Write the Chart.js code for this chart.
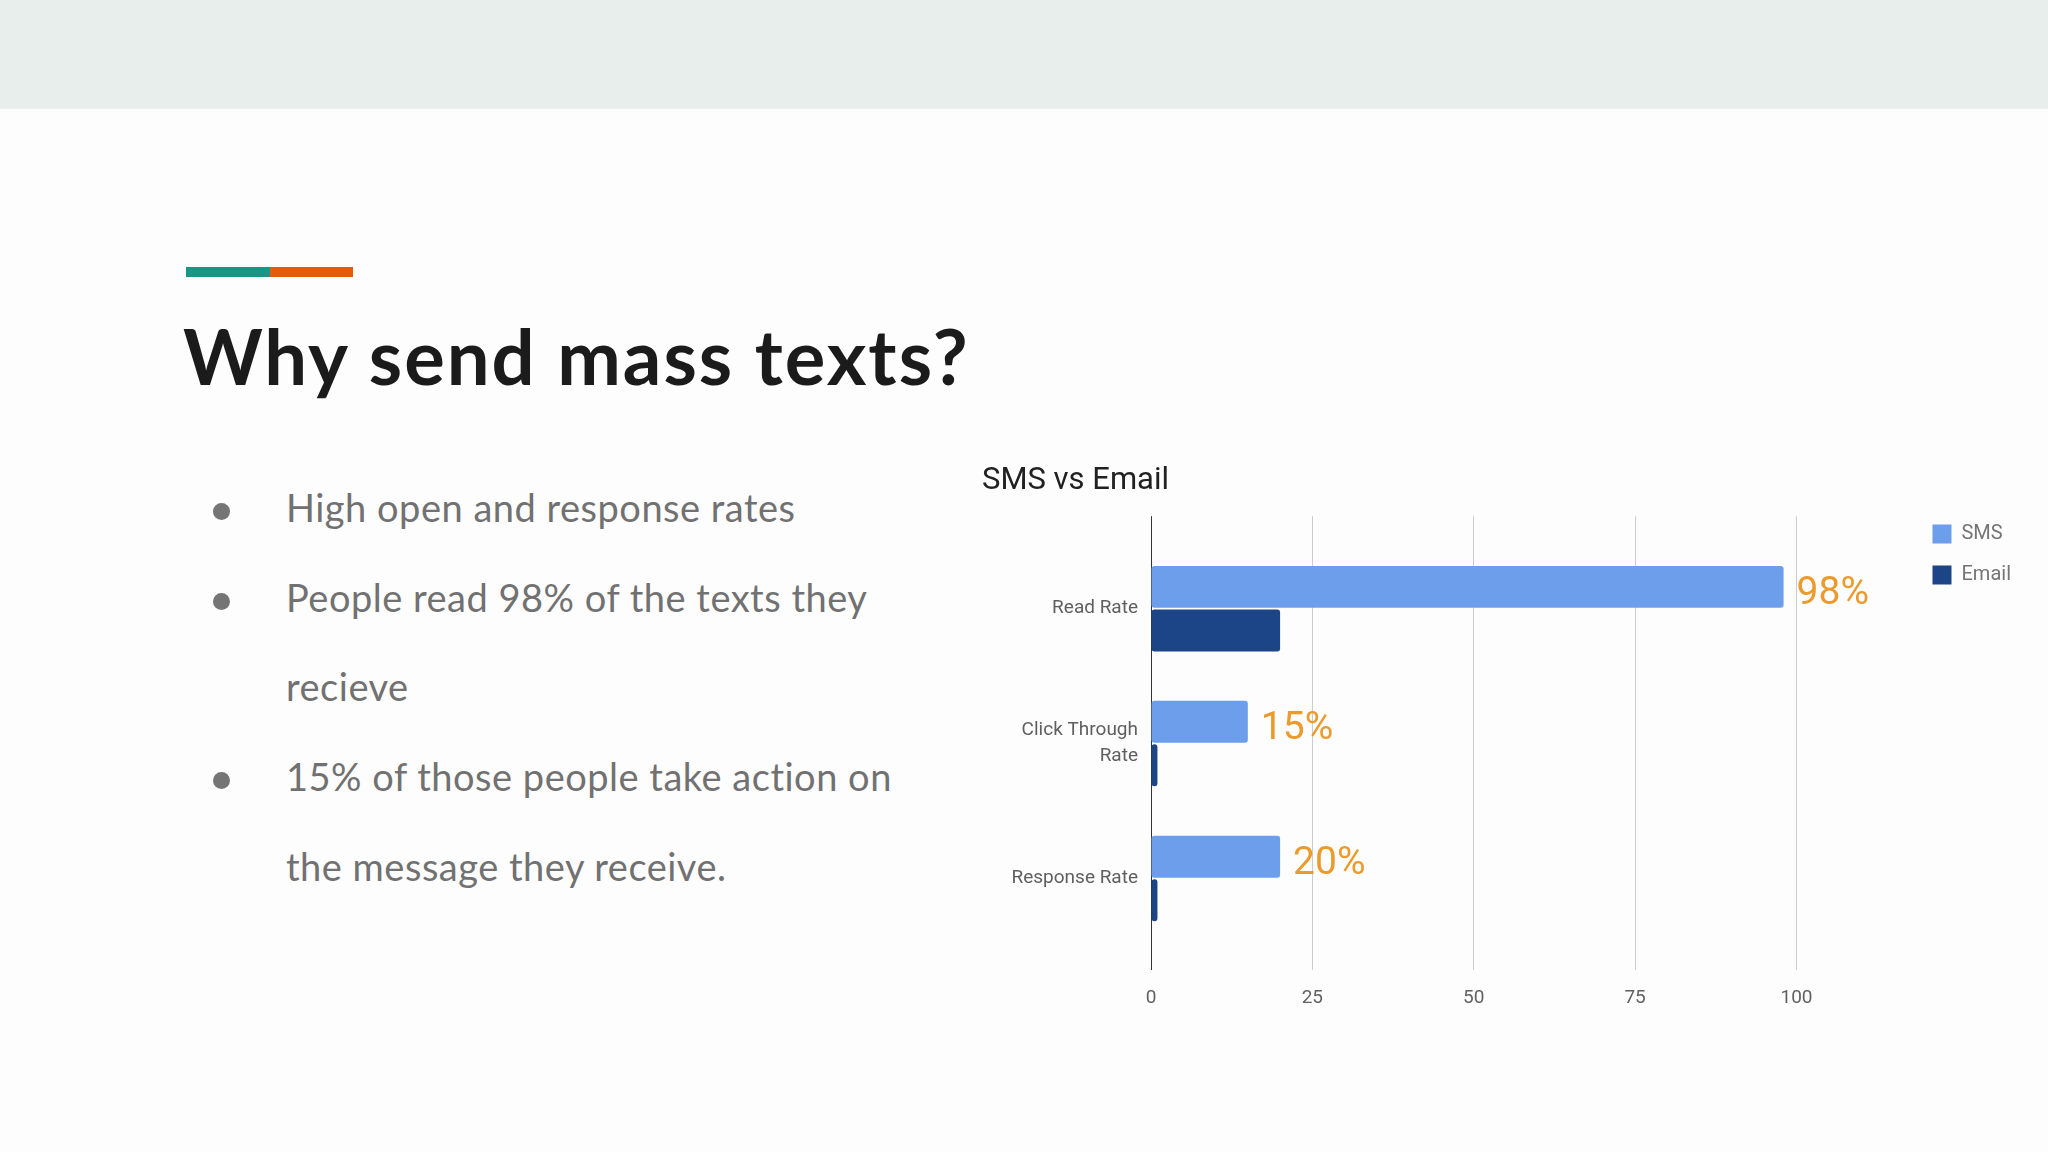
<!DOCTYPE html>
<html>
<head>
<meta charset="utf-8">
<title>Why send mass texts?</title>
<script src="https://cdn.jsdelivr.net/npm/chart.js@4.4.1/dist/chart.umd.min.js"></script>
<style>
  html, body { margin: 0; padding: 0; }
  body { width: 2048px; height: 1152px; background: #fdfdfd; position: relative; overflow: hidden; font-family: Lato, sans-serif; }
  .banda { position: absolute; left: 0; top: 0; width: 2048px; height: 109px; background: #e8eeeb; }
  .acento { position: absolute; left: 186px; top: 267px; width: 84px; height: 10px; background: #1a9784; }
  .acento.naranja { left: 270px; width: 83px; background: #e65b0a; }
  h1 { position: absolute; left: 183px; top: 318px; margin: 0; font: 700 76px/1 Lato, sans-serif; letter-spacing: 2px; color: #1b1b1b; white-space: nowrap; }
  ul { position: absolute; left: 286px; top: 463px; margin: 0; padding: 0; list-style: none; font: 400 38px/89.7px Lato, sans-serif; letter-spacing: 0.5px; color: #717171; }
  li { position: relative; white-space: nowrap; }
  li::before { content: ''; position: absolute; left: -73px; top: 40px; width: 17px; height: 17px; border-radius: 50%; background: #757575; }
  #grafica { position: absolute; left: 960px; top: 440px; }
</style>
</head>
<body>
<div class="banda"></div>
<div class="acento"></div>
<div class="acento naranja"></div>
<h1>Why send mass texts?</h1>
<ul>
  <li>High open and response rates</li>
  <li>People read 98% of the texts they<br>recieve</li>
  <li>15% of those people take action on<br>the message they receive.</li>
</ul>
<canvas id="grafica" width="1088" height="600"></canvas>
<script>
const categorias = ['Read Rate', 'Click Through Rate', 'Response Rate'];
const valoresSMS = [98, 15, 20];
const valoresEmail = [20, 1, 1];
const ticksX = [0, 25, 50, 75, 100];

// parte las etiquetas largas en dos renglones, como Google Charts
function partir(txt){
  if(txt.length <= 14) return txt;
  const i = txt.lastIndexOf(' ');
  return [txt.slice(0, i), txt.slice(i + 1)];
}

const etiquetasSMS = {
  id: 'etiquetasSMS',
  afterDatasetsDraw(chart){
    const ctx = chart.ctx;
    const meta = chart.getDatasetMeta(0);
    ctx.save();
    ctx.font = '39px Roboto';
    ctx.fillStyle = '#eb9a2c';
    ctx.textBaseline = 'middle';
    meta.data.forEach((bar, i) => {
      ctx.fillText(valoresSMS[i] + '%', bar.x + 13, bar.y + 7);
    });
    ctx.restore();
  }
};

Chart.defaults.font.family = 'Roboto';

new Chart(document.getElementById('grafica'), {
  type: 'bar',
  data: {
    labels: categorias.map((c, i) => i),
    datasets: [
      { label: 'SMS', data: valoresSMS, backgroundColor: '#6d9eeb', borderRadius: 3, borderSkipped: false },
      { label: 'Email', data: valoresEmail, backgroundColor: '#1c4587', borderRadius: 3, borderSkipped: false }
    ]
  },
  options: {
    indexAxis: 'y',
    responsive: false,
    animation: false,
    devicePixelRatio: 1,
    layout: { padding: { left: 22, right: 27, top: 0, bottom: 0 } },
    datasets: { bar: { categoryPercentage: 0.645, barPercentage: 0.965 } },
    scales: {
      x: {
        type: 'linear',
        min: 0, max: 100,
        afterBuildTicks(s){ s.ticks = ticksX.map(v => ({ value: v })); },
        afterFit(s){ s.height = 70; },
        grid: {
          drawTicks: false,
          color: c => (c.tick && c.tick.value === 0) ? '#333333' : '#cccccc'
        },
        border: { display: false },
        ticks: { padding: 17, color: '#616161', font: { size: 19 } }
      },
      y: {
        type: 'linear',
        reverse: true,
        offset: false,
        min: -0.685, max: 2.678,
        afterBuildTicks(s){ s.ticks = categorias.map((c, i) => ({ value: i })); },
        afterFit(s){ s.width = 169; },
        grid: { display: false, drawTicks: false },
        border: { display: false },
        ticks: {
          padding: 13, color: '#5f5f5f', font: { size: 19, lineHeight: 1.37 },
          callback: v => partir(categorias[v])
        }
      },
      hueco: {
        type: 'linear',
        position: 'right',
        afterFit(s){ s.width = 115; },
        grid: { display: false },
        border: { display: false },
        ticks: { display: false }
      }
    },
    plugins: {
      title: {
        display: true, text: 'SMS vs Email', align: 'start', color: '#212121',
        font: { size: 31, weight: 'normal' },
        padding: { top: 23, bottom: 16 }
      },
      legend: {
        position: 'right', align: 'start',
        title: { display: true, text: '', font: { size: 20, lineHeight: '63px' }, padding: 0 },
        labels: { boxWidth: 19, boxHeight: 19, padding: 21, color: '#757575', font: { size: 20 } }
      },
      tooltip: { enabled: false }
    }
  },
  plugins: [etiquetasSMS]
});
</script>
</body>
</html>
